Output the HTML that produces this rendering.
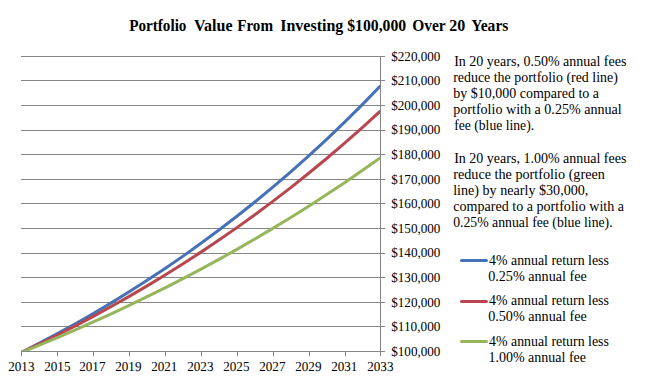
<!DOCTYPE html>
<html><head><meta charset="utf-8"><style>
html,body{margin:0;padding:0;background:#fff;width:668px;height:387px;overflow:hidden}
svg{position:absolute;left:0;top:0}
text{font-family:"Liberation Serif",serif;fill:#000;white-space:pre}
.ax{font-size:13.7px;text-rendering:geometricPrecision}
.tx{font-size:14px}
.title{font-size:16px;font-weight:bold}
</style></head><body>
<svg width="668" height="387" viewBox="0 0 668 387">
<rect x="21" y="56" width="364" height="1" fill="#868686"/>
<rect x="21" y="80" width="364" height="1" fill="#868686"/>
<rect x="21" y="105" width="364" height="1" fill="#868686"/>
<rect x="21" y="130" width="364" height="1" fill="#868686"/>
<rect x="21" y="154" width="364" height="1" fill="#868686"/>
<rect x="21" y="179" width="364" height="1" fill="#868686"/>
<rect x="21" y="203" width="364" height="1" fill="#868686"/>
<rect x="21" y="228" width="364" height="1" fill="#868686"/>
<rect x="21" y="253" width="364" height="1" fill="#868686"/>
<rect x="21" y="277" width="364" height="1" fill="#868686"/>
<rect x="21" y="302" width="364" height="1" fill="#868686"/>
<rect x="21" y="326" width="364" height="1" fill="#868686"/>
<rect x="21" y="351" width="364" height="1" fill="#868686"/>
<clipPath id="pa"><rect x="21" y="40" width="359" height="311"/></clipPath>
<g clip-path="url(#pa)">
<polyline points="21.50,352.40 39.45,343.21 57.40,333.67 75.35,323.77 93.30,313.51 111.25,302.86 129.20,291.81 147.15,280.35 165.10,268.46 183.05,256.13 201.00,243.34 218.95,230.06 236.90,216.29 254.85,202.01 272.80,187.19 290.75,171.82 308.70,155.87 326.65,139.32 344.60,122.16 362.55,104.36 380.50,85.88" fill="none" stroke="#4671B6" stroke-width="3" stroke-linejoin="round"/>
<polyline points="21.50,352.40 39.45,343.84 57.40,334.99 75.35,325.83 93.30,316.35 111.25,306.54 129.20,296.39 147.15,285.89 165.10,275.02 183.05,263.77 201.00,252.13 218.95,240.09 236.90,227.62 254.85,214.73 272.80,201.38 290.75,187.57 308.70,173.28 326.65,158.49 344.60,143.19 362.55,127.35 380.50,110.96" fill="none" stroke="#B8464F" stroke-width="3" stroke-linejoin="round"/>
<polyline points="21.50,352.40 39.45,345.12 57.40,337.63 75.35,329.92 93.30,321.98 111.25,313.80 129.20,305.38 147.15,296.71 165.10,287.79 183.05,278.60 201.00,269.13 218.95,259.39 236.90,249.36 254.85,239.04 272.80,228.40 290.75,217.46 308.70,206.19 326.65,194.58 344.60,182.63 362.55,170.33 380.50,157.67" fill="none" stroke="#97B55B" stroke-width="3" stroke-linejoin="round"/>
</g>
<rect x="380" y="56" width="1" height="300" fill="#868686"/>
<rect x="21" y="351" width="364" height="1" fill="#868686"/>
<rect x="21" y="351" width="1" height="5" fill="#868686"/>
<rect x="57" y="351" width="1" height="5" fill="#868686"/>
<rect x="93" y="351" width="1" height="5" fill="#868686"/>
<rect x="129" y="351" width="1" height="5" fill="#868686"/>
<rect x="165" y="351" width="1" height="5" fill="#868686"/>
<rect x="201" y="351" width="1" height="5" fill="#868686"/>
<rect x="237" y="351" width="1" height="5" fill="#868686"/>
<rect x="273" y="351" width="1" height="5" fill="#868686"/>
<rect x="309" y="351" width="1" height="5" fill="#868686"/>
<rect x="345" y="351" width="1" height="5" fill="#868686"/>
<rect x="380" y="351" width="1" height="5" fill="#868686"/>
<line x1="461.5" y1="260.5" x2="486.5" y2="260.5" stroke="#4671B6" stroke-width="3" stroke-linecap="round"/>
<line x1="461.5" y1="301.5" x2="486.5" y2="301.5" stroke="#B8464F" stroke-width="3" stroke-linecap="round"/>
<line x1="461.5" y1="341.5" x2="486.5" y2="341.5" stroke="#97B55B" stroke-width="3" stroke-linecap="round"/>
<text class="title" x="129.20" y="31" textLength="57.26" lengthAdjust="spacingAndGlyphs">Portfolio</text>
<text class="title" x="194.00" y="31" textLength="38.53" lengthAdjust="spacingAndGlyphs">Value</text>
<text class="title" x="237.20" y="31" textLength="35.82" lengthAdjust="spacingAndGlyphs">From</text>
<text class="title" x="280.20" y="31" textLength="63.14" lengthAdjust="spacingAndGlyphs">Investing</text>
<text class="title" x="347.20" y="31" textLength="58.97" lengthAdjust="spacingAndGlyphs">$100,000</text>
<text class="title" x="412.20" y="31" textLength="33.57" lengthAdjust="spacingAndGlyphs">Over</text>
<text class="title" x="449.20" y="31" textLength="16.00" lengthAdjust="spacingAndGlyphs">20</text>
<text class="title" x="471.20" y="31" textLength="37.16" lengthAdjust="spacingAndGlyphs">Years</text>
<text class="tx" x="454.20" y="66" textLength="172.22" lengthAdjust="spacingAndGlyphs">In 20 years, 0.50% annual fees</text>
<text class="tx" x="453.20" y="82" textLength="164.58" lengthAdjust="spacingAndGlyphs">reduce the portfolio (red line)</text>
<text class="tx" x="453.20" y="98" textLength="145.80" lengthAdjust="spacingAndGlyphs">by $10,000 compared to a</text>
<text class="tx" x="453.20" y="114" textLength="168.59" lengthAdjust="spacingAndGlyphs">portfolio with a 0.25% annual</text>
<text class="tx" x="454.20" y="130" textLength="79.94" lengthAdjust="spacingAndGlyphs">fee (blue line).</text>
<text class="tx" x="454.20" y="163" textLength="172.22" lengthAdjust="spacingAndGlyphs">In 20 years, 1.00% annual fees</text>
<text class="tx" x="453.20" y="179" textLength="151.69" lengthAdjust="spacingAndGlyphs">reduce the portfolio (green</text>
<text class="tx" x="453.20" y="195" textLength="135.16" lengthAdjust="spacingAndGlyphs">line) by nearly $30,000,</text>
<text class="tx" x="453.20" y="211" textLength="170.92" lengthAdjust="spacingAndGlyphs">compared to a portfolio with a</text>
<text class="tx" x="453.20" y="227" textLength="159.45" lengthAdjust="spacingAndGlyphs">0.25% annual fee (blue line).</text>
<text class="tx" x="489.00" y="265" textLength="119.91" lengthAdjust="spacingAndGlyphs">4% annual return less</text>
<text class="tx" x="488.20" y="281" textLength="98.61" lengthAdjust="spacingAndGlyphs">0.25% annual fee</text>
<text class="tx" x="489.00" y="305" textLength="119.91" lengthAdjust="spacingAndGlyphs">4% annual return less</text>
<text class="tx" x="488.20" y="321" textLength="98.61" lengthAdjust="spacingAndGlyphs">0.50% annual fee</text>
<text class="tx" x="489.00" y="346" textLength="119.91" lengthAdjust="spacingAndGlyphs">4% annual return less</text>
<text class="tx" x="488.40" y="362" textLength="97.59" lengthAdjust="spacingAndGlyphs">1.00% annual fee</text>
<text class="ax" x="391.20" y="61" textLength="49.23" lengthAdjust="spacingAndGlyphs">$220,000</text>
<text class="ax" x="391.20" y="85" textLength="49.23" lengthAdjust="spacingAndGlyphs">$210,000</text>
<text class="ax" x="391.20" y="110" textLength="49.23" lengthAdjust="spacingAndGlyphs">$200,000</text>
<text class="ax" x="391.20" y="134" textLength="49.23" lengthAdjust="spacingAndGlyphs">$190,000</text>
<text class="ax" x="391.20" y="159" textLength="49.23" lengthAdjust="spacingAndGlyphs">$180,000</text>
<text class="ax" x="391.20" y="184" textLength="49.23" lengthAdjust="spacingAndGlyphs">$170,000</text>
<text class="ax" x="391.20" y="208" textLength="49.23" lengthAdjust="spacingAndGlyphs">$160,000</text>
<text class="ax" x="391.20" y="233" textLength="49.23" lengthAdjust="spacingAndGlyphs">$150,000</text>
<text class="ax" x="391.20" y="257" textLength="49.23" lengthAdjust="spacingAndGlyphs">$140,000</text>
<text class="ax" x="391.20" y="282" textLength="49.23" lengthAdjust="spacingAndGlyphs">$130,000</text>
<text class="ax" x="391.20" y="307" textLength="49.23" lengthAdjust="spacingAndGlyphs">$120,000</text>
<text class="ax" x="391.20" y="331" textLength="49.27" lengthAdjust="spacingAndGlyphs">$110,000</text>
<text class="ax" x="391.20" y="356" textLength="49.23" lengthAdjust="spacingAndGlyphs">$100,000</text>
<text class="ax" x="8.20" y="371" textLength="26.28" lengthAdjust="spacingAndGlyphs">2013</text>
<text class="ax" x="44.20" y="371" textLength="26.28" lengthAdjust="spacingAndGlyphs">2015</text>
<text class="ax" x="79.20" y="371" textLength="26.28" lengthAdjust="spacingAndGlyphs">2017</text>
<text class="ax" x="115.20" y="371" textLength="26.28" lengthAdjust="spacingAndGlyphs">2019</text>
<text class="ax" x="151.20" y="371" textLength="26.23" lengthAdjust="spacingAndGlyphs">2021</text>
<text class="ax" x="187.20" y="371" textLength="26.28" lengthAdjust="spacingAndGlyphs">2023</text>
<text class="ax" x="223.20" y="371" textLength="26.28" lengthAdjust="spacingAndGlyphs">2025</text>
<text class="ax" x="259.20" y="371" textLength="26.28" lengthAdjust="spacingAndGlyphs">2027</text>
<text class="ax" x="295.20" y="371" textLength="26.28" lengthAdjust="spacingAndGlyphs">2029</text>
<text class="ax" x="331.20" y="371" textLength="26.23" lengthAdjust="spacingAndGlyphs">2031</text>
<text class="ax" x="367.20" y="371" textLength="26.28" lengthAdjust="spacingAndGlyphs">2033</text>
</svg>
</body></html>
